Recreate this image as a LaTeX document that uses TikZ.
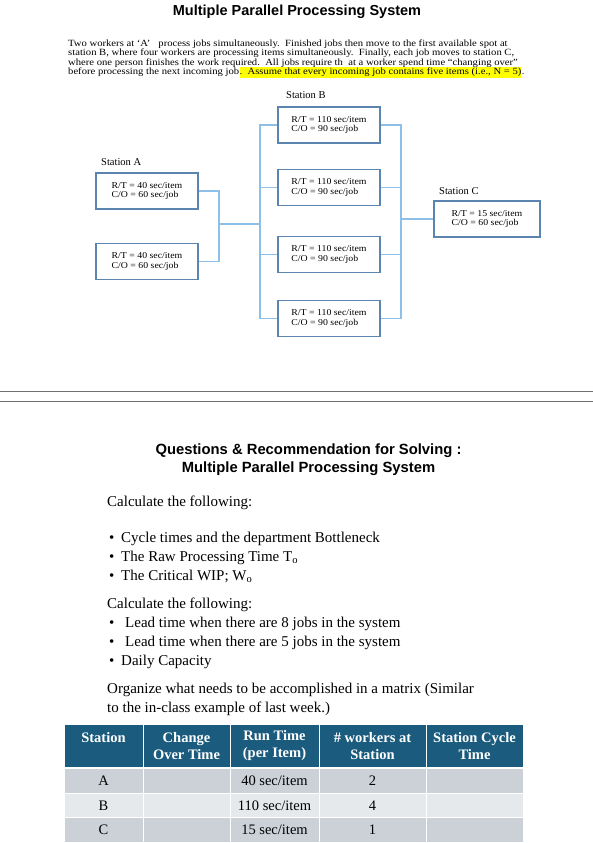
\documentclass[tikz,border=0pt]{standalone}
\usepackage{fontspec}
\setmainfont{Liberation Serif}
\newfontfamily\arialfont{Liberation Sans}
\definecolor{boxblue}{HTML}{5B84AF}
\definecolor{linkblue}{HTML}{8EBFE8}
\definecolor{hdrblue}{HTML}{1B5C7E}
\definecolor{rowdark}{HTML}{CBD1D7}
\definecolor{rowlight}{HTML}{E6E9EC}
\definecolor{rulegrey}{HTML}{707070}
\definecolor{hiyellow}{HTML}{FFFF00}
\newcommand{\pline}[1]{\scalebox{1.12}[1]{#1}}
\newcommand{\boxtxt}[2]{\scalebox{1.09}[1]{\begin{tabular}{@{}l@{}}#1\\#2\end{tabular}}}
\begin{document}
\begin{tikzpicture}[x=1pt,y=-1pt,
  procbox/.style={draw=boxblue, line width=1.4pt, fill=white, minimum width=102pt, minimum height=36pt, inner sep=0pt, font=\fontsize{9}{9.3}\selectfont},
  conn/.style={draw=linkblue, line width=1.2pt},
  stlabel/.style={anchor=west, inner sep=0pt, font=\fontsize{10.5}{11}\selectfont},
  para/.style={anchor=base west, inner sep=0pt, font=\fontsize{9.5}{9.5}\selectfont},
  body/.style={anchor=base west, inner sep=0pt, font=\fontsize{15}{18}\selectfont},
  bul/.style={anchor=base west, inner sep=0pt, font=\fontsize{15}{18}\selectfont},
  ttl/.style={anchor=base, inner sep=0pt, font=\arialfont\bfseries\fontsize{14.5}{16}\selectfont},
  qttl/.style={anchor=base, inner sep=0pt, font=\arialfont\bfseries\fontsize{14.8}{17}\selectfont},
  hdr/.style={fill=hdrblue, draw=white, line width=1pt, text=white, align=center, inner sep=0pt, minimum height=43pt, font=\bfseries\fontsize{14.5}{17}\selectfont},
  cell/.style={draw=white, line width=1pt, align=center, inner sep=0pt, minimum height=24.5pt, font=\fontsize{14.5}{17}\selectfont},
  sep/.style={draw=rulegrey, line width=1pt}
]
\useasboundingbox (0,0) rectangle (593,843);

% title and paragraph
\node[ttl] (title) at (297,16) {Multiple Parallel Processing System};
\node[para] (p1) at (68,46.5) {\pline{Two workers at ‘A’\ \ \ process jobs simultaneously.\ \ Finished jobs then move to the first available spot at}};
\node[para] (p2) at (68,55.8) {\pline{station B, where four workers are processing items simultaneously.\ \ Finally, each job moves to station C,}};
\node[para] (p3) at (68,65.1) {\pline{where one person finishes the work required.\ \ All jobs require th\ \ at a worker spend time “changing over”}};
\node[para] (p4a) at (68,74.4) {\pline{before processing the next incoming job}};
\node[para, fill=hiyellow, inner ysep=1.2pt] (p4b) at (p4a.base east) {\pline{.\ \ Assume that every incoming job contains five items (i.e., N = 5)}};
\node[para] (p4c) at (p4b.base east) {\pline{.}};

% diagram
\node[stlabel] (lA) at (101,162) {Station A};
\node[stlabel] (lB) at (286,95) {Station B};
\node[stlabel] (lC) at (439,191) {Station C};

\node[procbox] (A1) at (147,191) {\boxtxt{R/T = 40 sec/item}{C/O = 60 sec/job}};
\node[procbox] (A2) at (147,261.5) {\boxtxt{R/T = 40 sec/item}{C/O = 60 sec/job}};
\node[procbox] (B1) at (329,125) {\boxtxt{R/T = 110 sec/item}{C/O = 90 sec/job}};
\node[procbox] (B2) at (329,187.5) {\boxtxt{R/T = 110 sec/item}{C/O = 90 sec/job}};
\node[procbox] (B3) at (329,254.5) {\boxtxt{R/T = 110 sec/item}{C/O = 90 sec/job}};
\node[procbox] (B4) at (329,318.5) {\boxtxt{R/T = 110 sec/item}{C/O = 90 sec/job}};
\node[procbox, minimum width=106pt] (C1) at (487,219) {\boxtxt{R/T = 15 sec/item}{C/O = 60 sec/job}};

\coordinate (jA) at (219,224);
\coordinate (jB) at (260,224);
\coordinate (jC) at (401,219);

\draw[conn] (A1.east) -| (jA) |- (A2.east);
\draw[conn] (jA) -- (jB);
\draw[conn] (B1.west) -| (jB) |- (B4.west);
\draw[conn] (jB |- B2.west) -- (B2.west);
\draw[conn] (jB |- B3.west) -- (B3.west);
\draw[conn] (B1.east) -| (jC) |- (B4.east);
\draw[conn] (B2.east) -- (jC |- B2.east);
\draw[conn] (B3.east) -- (jC |- B3.east);
\draw[conn] (jC) -- (C1.west);

% separator lines
\draw[sep] (0,391) -- (593,391);
\draw[sep] (0,401) -- (593,401);

% questions
\node[qttl] (q1) at (308.5,454.5) {Questions \& Recommendation for Solving :};
\node[qttl] (q2) at (308.5,472.5) {Multiple Parallel Processing System};

\node[body] (c1) at (107,506.5) {Calculate the following:};
\node[bul] (b1) at (109,542.5) {•};
\node[body] (t1) at (121,542.5) {Cycle times and the department Bottleneck};
\node[bul] (b2) at (109,561) {•};
\node[body] (t2) at (121,561) {The Raw Processing Time T\textsubscript{o}};
\node[bul] (b3) at (109,580) {•};
\node[body] (t3) at (121,580) {The Critical WIP; W\textsubscript{o}};

\node[body] (c2) at (107,608.5) {Calculate the following:};
\node[bul] (b4) at (109,627) {•};
\node[body] (t4) at (125,627) {Lead time when there are 8 jobs in the system};
\node[bul] (b5) at (109,646) {•};
\node[body] (t5) at (125,646) {Lead time when there are 5 jobs in the system};
\node[bul] (b6) at (109,665) {•};
\node[body] (t6) at (121,665) {Daily Capacity};

\node[body] (o1) at (107,693.5) {Organize what needs to be accomplished in a matrix (Similar};
\node[body] (o2) at (107,712) {to the in-class example of last week.)};

% table
\node[hdr, minimum width=79pt] (h1) at (103.5,746) {Station\\\phantom{X}};
\node[hdr, minimum width=87pt] (h2) at (186.5,746) {Change\\Over Time};
\node[hdr, minimum width=89pt] (h3) at (274.5,746) {Run Time\\(per Item)};
\node[hdr, minimum width=107pt] (h4) at (372.5,746) {\# workers at\\Station};
\node[hdr, minimum width=97pt] (h5) at (474.5,746) {Station Cycle\\Time};

\node[cell, fill=rowdark, minimum width=79pt] (a1) at (103.5,781) {A};
\node[cell, fill=rowdark, minimum width=87pt] (a2) at (186.5,781) {};
\node[cell, fill=rowdark, minimum width=89pt] (a3) at (274.5,781) {40 sec/item};
\node[cell, fill=rowdark, minimum width=107pt] (a4) at (372.5,781) {2};
\node[cell, fill=rowdark, minimum width=97pt] (a5) at (474.5,781) {};

\node[cell, fill=rowlight, minimum width=79pt] (bb1) at (103.5,805.5) {B};
\node[cell, fill=rowlight, minimum width=87pt] (bb2) at (186.5,805.5) {};
\node[cell, fill=rowlight, minimum width=89pt] (bb3) at (274.5,805.5) {110 sec/item};
\node[cell, fill=rowlight, minimum width=107pt] (bb4) at (372.5,805.5) {4};
\node[cell, fill=rowlight, minimum width=97pt] (bb5) at (474.5,805.5) {};

\node[cell, fill=rowdark, minimum width=79pt] (cc1) at (103.5,830) {C};
\node[cell, fill=rowdark, minimum width=87pt] (cc2) at (186.5,830) {};
\node[cell, fill=rowdark, minimum width=89pt] (cc3) at (274.5,830) {15 sec/item};
\node[cell, fill=rowdark, minimum width=107pt] (cc4) at (372.5,830) {1};
\node[cell, fill=rowdark, minimum width=97pt] (cc5) at (474.5,830) {};
\end{tikzpicture}
\end{document}
